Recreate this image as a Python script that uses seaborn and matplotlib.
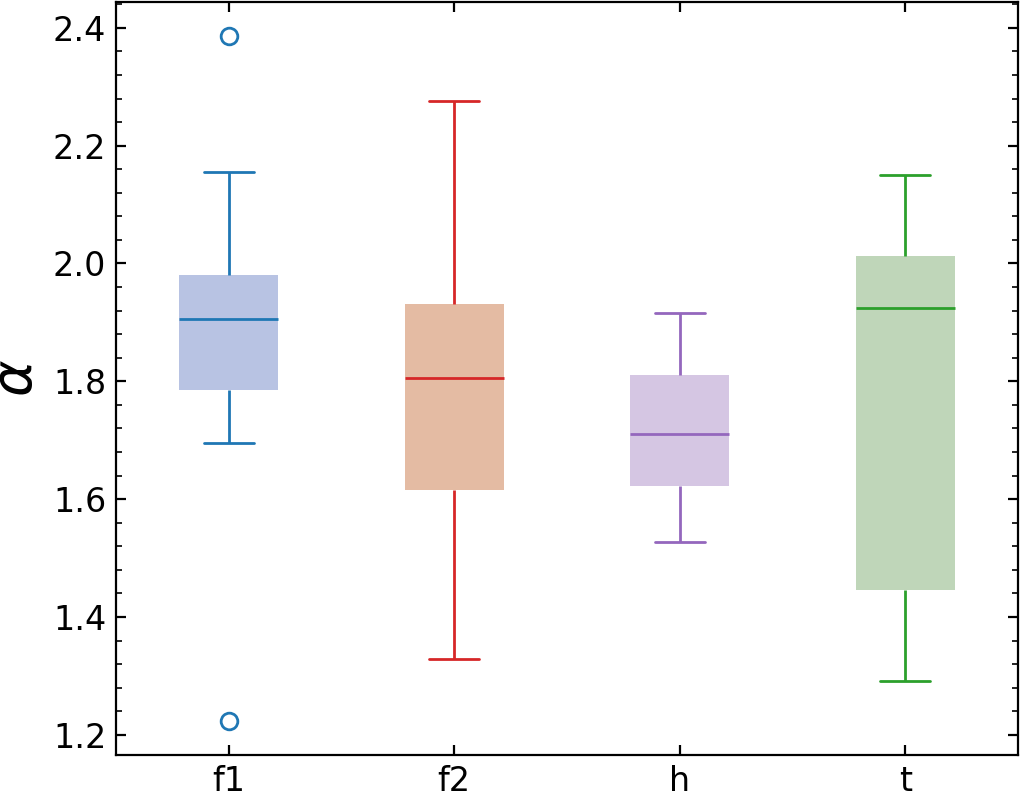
import numpy as np
import pandas as pd
import matplotlib
matplotlib.use("Agg")
import matplotlib.pyplot as plt
from matplotlib.ticker import MultipleLocator
import seaborn as sns

# values: low whisker, Q1, median, Q3, high whisker (+ outliers)
groups = ["f1", "f2", "h", "t"]
f1_values = [1.224, 1.695, 1.785, 1.785, 1.906, 1.980, 1.980, 2.155, 2.386]
f2_values = [1.328, 1.615, 1.805, 1.931, 2.276]
h_values = [1.528, 1.622, 1.710, 1.810, 1.916]
t_values = [1.292, 1.445, 1.924, 2.013, 2.150]

line_colors = ["#1f77b4", "#d62728", "#9467bd", "#2ca02c"]
fill_colors = ["#b8c3e3", "#e4bba3", "#d5c6e3", "#bfd6b9"]

rows = []
for name, vals in zip(groups, [f1_values, f2_values, h_values, t_values]):
    for v in vals:
        rows.append({"group": name, "alpha": v})
df = pd.DataFrame(rows)

sns.set_style("ticks")
plt.rcParams["font.family"] = ["DejaVu Sans"]
plt.rcParams["text.color"] = "black"
plt.rcParams["axes.labelcolor"] = "black"
plt.rcParams["xtick.color"] = "black"
plt.rcParams["ytick.color"] = "black"

fig = plt.figure(figsize=(5.105, 3.965), dpi=200)
ax = fig.add_axes([0.1136, 0.048, 0.8834, 0.9497])

sns.boxplot(data=df, x="group", y="alpha", hue="group", order=groups,
            hue_order=groups, palette=fill_colors, width=0.44, linewidth=1,
            dodge=False, legend=False, ax=ax,
            flierprops=dict(marker="o", markerfacecolor="none", markersize=6,
                            markeredgewidth=1))

for cont, lc, fc in zip(ax.containers, line_colors, fill_colors):
    for b in cont.boxes:
        b.set_facecolor(fc)
        b.set_edgecolor(fc)
        b.set_linewidth(0)
    for ln in list(cont.whiskers) + list(cont.caps) + list(cont.medians):
        ln.set_color(lc)
        ln.set_linewidth(1)
    for ln in cont.fliers:
        ln.set_markeredgecolor(lc)
        ln.set_markerfacecolor("none")

ax.set_xlim(-0.5, 3.5)
ax.set_xlabel("")
ax.set_ylabel(r"$\alpha$", fontsize=20, labelpad=3, color="black")
ax.yaxis.set_major_locator(MultipleLocator(0.2))
ax.yaxis.set_minor_locator(MultipleLocator(0.04))
ax.tick_params(axis="both", which="both", direction="in", top=True, right=True,
               labelsize=12, colors="black")
ax.tick_params(axis="x", which="minor", top=False, bottom=False)
for s in ax.spines.values():
    s.set_linewidth(0.8)
    s.set_color("black")

fig.savefig("out.png", dpi=200)
